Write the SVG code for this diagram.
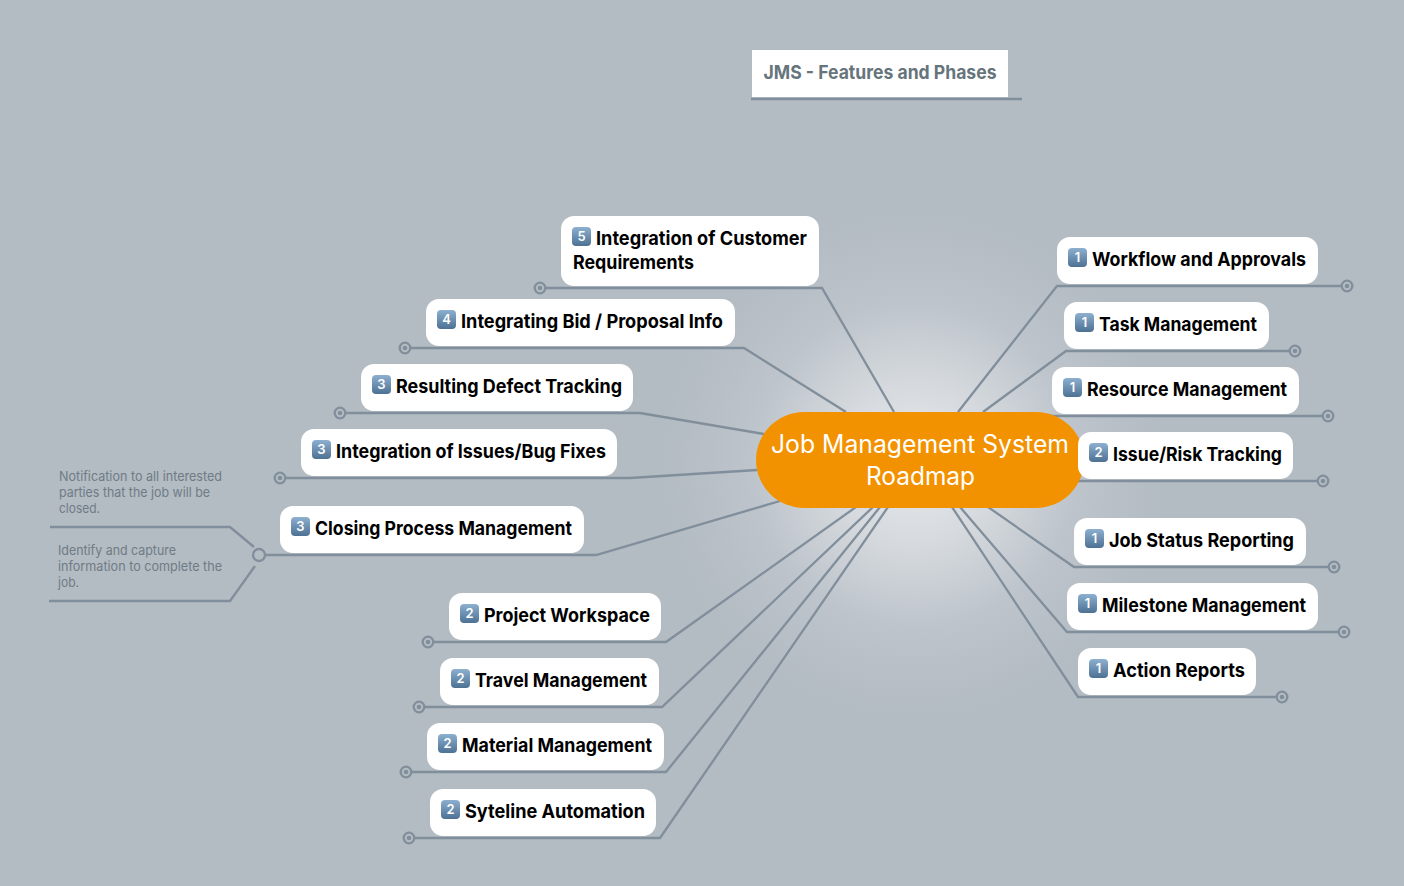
<svg xmlns="http://www.w3.org/2000/svg" width="1404" height="886" viewBox="0 0 1404 886">
<style>
.conn{fill:none;stroke:#818e9b;stroke-width:2.300}
.conn2{fill:none;stroke:#818e9b;stroke-width:2.400}
.dot{fill:none;stroke:#818e9b;stroke-width:2.300}
.pt{fill:#818e9b}
.box{fill:#fff}
text{font-family:"Inter","Liberation Sans",sans-serif}
.lbl{font-size:19px;font-weight:700;fill:#000}
.num{font-size:13px;font-weight:600;fill:#fff;text-anchor:middle}
.note{font-size:13.5px;fill:#6f7b85}
.title{font-size:19px;font-weight:700;fill:#66747c}
.center{font-size:25px;font-weight:400;fill:#fff}
</style>
<defs>
<radialGradient id="bg" gradientUnits="userSpaceOnUse" cx="915" cy="465" r="250">
<stop offset="0" stop-color="#e6e8eb"/><stop offset="0.32" stop-color="#d6dade"/><stop offset="0.65" stop-color="#bdc4cb"/><stop offset="1" stop-color="#b3bbc3"/>
</radialGradient>
<linearGradient id="key" x1="0" y1="0" x2="0" y2="1"><stop offset="0" stop-color="#8db0d0"/><stop offset="1" stop-color="#4d7193"/></linearGradient>
<rect id="cap" width="19" height="19" rx="4" fill="url(#key)"/>
<g id="end"><circle r="5.300" class="dot"/><circle r="2.300" class="pt"/></g>
</defs>
<rect width="1404" height="886" fill="#b3bbc3"/>
<rect x="660" y="210" width="510" height="510" fill="url(#bg)"/>
<g id="connectors">
<path class="conn" d="M546 288H822L894 412"/>
<path class="conn" d="M411 348H744L846 412"/>
<path class="conn" d="M346 413H640L764 434"/>
<path class="conn" d="M286 478H630L757 470"/>
<path class="conn" d="M265 555H596L780 501"/>
<path class="conn" d="M434 642H666L856 507"/>
<path class="conn" d="M425 707H662L873 507"/>
<path class="conn" d="M412 772H666L880 507"/>
<path class="conn" d="M415 838H660L888 507"/>
<path class="conn" d="M1341 286H1057L958 412"/>
<path class="conn" d="M1289 351H1066L983 412"/>
<path class="conn" d="M1322 416H1030"/>
<path class="conn" d="M1317 481H1060"/>
<path class="conn" d="M1328 567H1074L988 507"/>
<path class="conn" d="M1338 632H1067L960 507"/>
<path class="conn" d="M1276 697H1078L952 507"/>
<path class="conn" d="M50 527H230L254 547"/>
<path class="conn" d="M49 601H230L255 566"/>
<use href="#end" x="540" y="288"/><use href="#end" x="405" y="348"/><use href="#end" x="340" y="413"/><use href="#end" x="280" y="478"/>
<circle cx="259" cy="555" r="6" class="dot"/>
<use href="#end" x="428" y="642"/><use href="#end" x="419" y="707"/><use href="#end" x="406" y="772"/><use href="#end" x="409" y="838"/>
<use href="#end" x="1347" y="286"/><use href="#end" x="1295" y="351"/><use href="#end" x="1328" y="416"/><use href="#end" x="1323" y="481"/>
<use href="#end" x="1334" y="567"/><use href="#end" x="1344" y="632"/><use href="#end" x="1282" y="697"/>
</g>
<g id="center"><rect x="756" y="412" width="328" height="96" rx="48" fill="#f39200"/><text class="center" x="771" y="453" textLength="298" lengthAdjust="spacingAndGlyphs">Job Management System</text><text class="center" x="866" y="485" textLength="109" lengthAdjust="spacingAndGlyphs">Roadmap</text></g>
<g id="title"><rect class="box" x="752" y="50" width="256" height="47"/><path class="conn2" d="M751 99H1022"/><text class="title" x="763.500" y="79" textLength="233" lengthAdjust="spacingAndGlyphs">JMS - Features and Phases</text></g>
<g id="n-cust"><rect class="box" x="561" y="216" width="258" height="70" rx="13"/><use href="#cap" x="572" y="227"/><text class="num" x="581.500" y="241">5</text><text class="lbl" x="596" y="245" textLength="211" lengthAdjust="spacingAndGlyphs">Integration of Customer</text><text class="lbl" x="573" y="269" textLength="121" lengthAdjust="spacingAndGlyphs">Requirements</text></g>
<g id="n-bid"><rect class="box" x="426" y="299" width="309" height="47" rx="13"/><use href="#cap" x="437" y="310"/><text class="num" x="446.500" y="324">4</text><text class="lbl" x="461" y="328" textLength="262" lengthAdjust="spacingAndGlyphs">Integrating Bid / Proposal Info</text></g>
<g id="n-defect"><rect class="box" x="361" y="364" width="272" height="47" rx="13"/><use href="#cap" x="372" y="375"/><text class="num" x="381.500" y="389">3</text><text class="lbl" x="396" y="393" textLength="226" lengthAdjust="spacingAndGlyphs">Resulting Defect Tracking</text></g>
<g id="n-issues"><rect class="box" x="301" y="429" width="316" height="47" rx="13"/><use href="#cap" x="312" y="440"/><text class="num" x="321.500" y="454">3</text><text class="lbl" x="336" y="458" textLength="270" lengthAdjust="spacingAndGlyphs">Integration of Issues/Bug Fixes</text></g>
<g id="n-closing"><rect class="box" x="280" y="506" width="304" height="47" rx="13"/><use href="#cap" x="291" y="517"/><text class="num" x="300.500" y="531">3</text><text class="lbl" x="315" y="535" textLength="257" lengthAdjust="spacingAndGlyphs">Closing Process Management</text></g>
<g id="note-1"><text class="note" x="59" y="481" textLength="163" lengthAdjust="spacingAndGlyphs">Notification to all interested</text><text class="note" x="59" y="497" textLength="151" lengthAdjust="spacingAndGlyphs">parties that the job will be</text><text class="note" x="59" y="513" textLength="41" lengthAdjust="spacingAndGlyphs">closed.</text></g>
<g id="note-2"><text class="note" x="58" y="555" textLength="118" lengthAdjust="spacingAndGlyphs">Identify and capture</text><text class="note" x="58" y="571" textLength="164" lengthAdjust="spacingAndGlyphs">information to complete the</text><text class="note" x="58" y="587" textLength="21" lengthAdjust="spacingAndGlyphs">job.</text></g>
<g id="n-workspace"><rect class="box" x="449" y="593" width="212" height="47" rx="13"/><use href="#cap" x="460" y="604"/><text class="num" x="469.500" y="618">2</text><text class="lbl" x="484" y="622" textLength="166" lengthAdjust="spacingAndGlyphs">Project Workspace</text></g>
<g id="n-travel"><rect class="box" x="440" y="658" width="219" height="47" rx="13"/><use href="#cap" x="451" y="669"/><text class="num" x="460.500" y="683">2</text><text class="lbl" x="475" y="687" textLength="172" lengthAdjust="spacingAndGlyphs">Travel Management</text></g>
<g id="n-material"><rect class="box" x="427" y="723" width="237" height="47" rx="13"/><use href="#cap" x="438" y="734"/><text class="num" x="447.500" y="748">2</text><text class="lbl" x="462" y="752" textLength="190" lengthAdjust="spacingAndGlyphs">Material Management</text></g>
<g id="n-syteline"><rect class="box" x="430" y="789" width="226" height="47" rx="13"/><use href="#cap" x="441" y="800"/><text class="num" x="450.500" y="814">2</text><text class="lbl" x="465" y="818" textLength="180" lengthAdjust="spacingAndGlyphs">Syteline Automation</text></g>
<g id="n-workflow"><rect class="box" x="1057" y="237" width="261" height="47" rx="13"/><use href="#cap" x="1068" y="248"/><text class="num" x="1077.500" y="262">1</text><text class="lbl" x="1092" y="266" textLength="214" lengthAdjust="spacingAndGlyphs">Workflow and Approvals</text></g>
<g id="n-task"><rect class="box" x="1064" y="302" width="205" height="47" rx="13"/><use href="#cap" x="1075" y="313"/><text class="num" x="1084.500" y="327">1</text><text class="lbl" x="1099" y="331" textLength="158" lengthAdjust="spacingAndGlyphs">Task Management</text></g>
<g id="n-resource"><rect class="box" x="1052" y="367" width="247" height="47" rx="13"/><use href="#cap" x="1063" y="378"/><text class="num" x="1072.500" y="392">1</text><text class="lbl" x="1087" y="396" textLength="200" lengthAdjust="spacingAndGlyphs">Resource Management</text></g>
<g id="n-risk"><rect class="box" x="1078" y="432" width="215" height="47" rx="13"/><use href="#cap" x="1089" y="443"/><text class="num" x="1098.500" y="457">2</text><text class="lbl" x="1113" y="461" textLength="169" lengthAdjust="spacingAndGlyphs">Issue/Risk Tracking</text></g>
<g id="n-status"><rect class="box" x="1074" y="518" width="232" height="47" rx="13"/><use href="#cap" x="1085" y="529"/><text class="num" x="1094.500" y="543">1</text><text class="lbl" x="1109" y="547" textLength="185" lengthAdjust="spacingAndGlyphs">Job Status Reporting</text></g>
<g id="n-milestone"><rect class="box" x="1067" y="583" width="251" height="47" rx="13"/><use href="#cap" x="1078" y="594"/><text class="num" x="1087.500" y="608">1</text><text class="lbl" x="1102" y="612" textLength="204" lengthAdjust="spacingAndGlyphs">Milestone Management</text></g>
<g id="n-action"><rect class="box" x="1078" y="648" width="178" height="47" rx="13"/><use href="#cap" x="1089" y="659"/><text class="num" x="1098.500" y="673">1</text><text class="lbl" x="1113" y="677" textLength="132" lengthAdjust="spacingAndGlyphs">Action Reports</text></g>
</svg>
